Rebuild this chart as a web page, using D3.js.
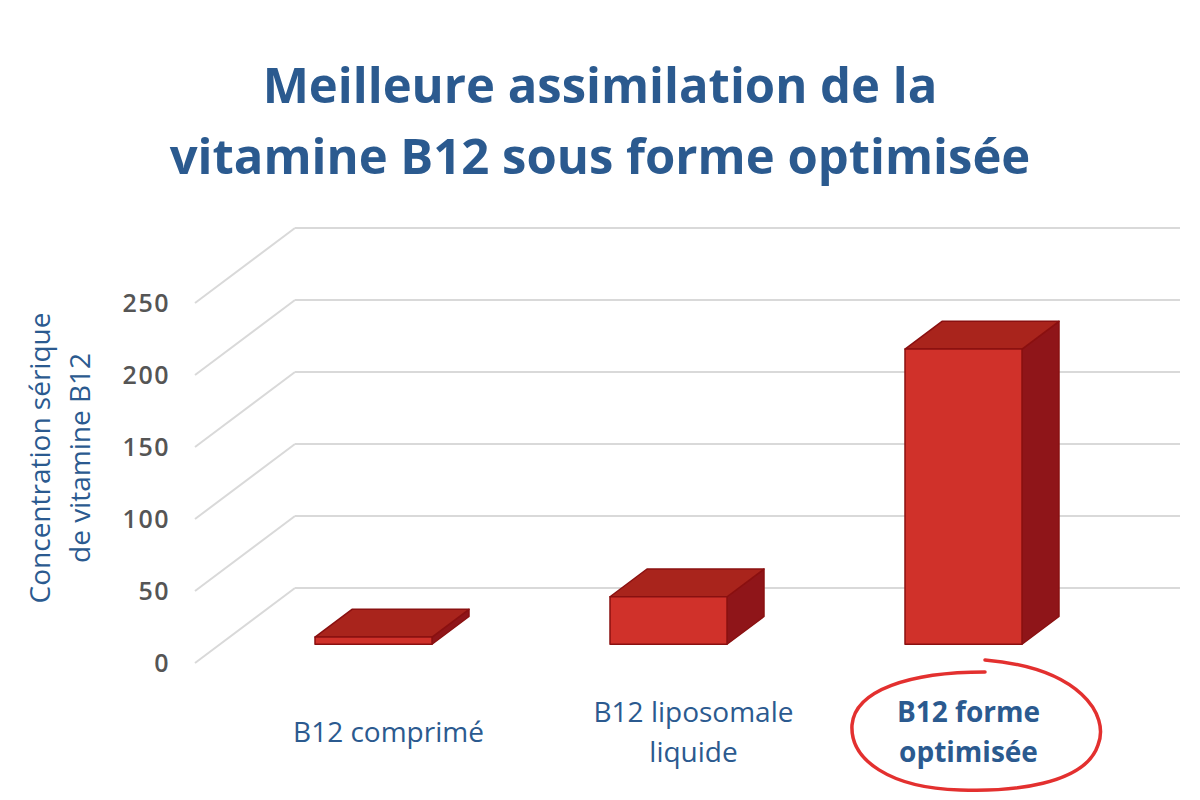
<!DOCTYPE html><html><head><meta charset="utf-8"><script src="https://cdn.jsdelivr.net/npm/d3@7"></script>
<style>body{margin:0;background:#fff}</style></head><body><svg id="c" width="1200" height="800"></svg>
<script>
const categories=["B12 comprimé","B12 liposomale liquide","B12 forme optimisée"];
const values=[5,33,205];
const ticks=[0,50,100,150,200,250];
const svg=d3.select("#c");
const blue="#2b5a8f";
const DX=100,DY=-75;
const y=d3.scaleLinear().domain([0,250]).range([663,303]);
const x=d3.scaleBand().domain(categories).range([201,1086]).paddingInner(0.6034).paddingOuter(0.3017);
const title=[["Meilleure assimilation de la",103],["vitamine B12 sous forme optimisée",174]];
title.forEach(([s,yy])=>svg.append("text").attr("x",600).attr("y",yy).attr("text-anchor","middle").attr("font-family","Open Sans").attr("font-weight",700).attr("font-size",49).attr("fill",blue).text(s));
const g=svg.append("g").attr("stroke","#d9d9d9").attr("stroke-width",2);
ticks.forEach(t=>{
  const yy=y(t);
  g.append("line").attr("x1",195).attr("y1",yy).attr("x2",195+DX).attr("y2",yy+DY);
  g.append("line").attr("x1",195+DX).attr("y1",yy+DY).attr("x2",1180).attr("y2",yy+DY);
});
svg.selectAll(".tk").data(ticks).enter().append("text").attr("x",170).attr("y",d=>y(d)+9).attr("text-anchor","end")
 .attr("font-family","Open Sans").attr("font-weight",600).attr("font-size",25).attr("letter-spacing",1.5).attr("fill","#555").text(d=>d);
const at=svg.append("text").attr("transform","translate(50,458) rotate(-90)").attr("text-anchor","middle").attr("font-family","Open Sans").attr("font-size",28).attr("fill",blue);
at.append("tspan").attr("x",0).attr("dy",0).text("Concentration sérique");
at.append("tspan").attr("x",0).attr("dy",40).text("de vitamine B12");
const t0=0.25, dep=0.37;
const ox=DX*t0, oy=DY*t0, bx=DX*dep, by=DY*dep;
const bw=x.bandwidth();
categories.forEach((c,i)=>{
  const x0=x(c)+ox, x1=x0+bw, yt=y(values[i])+oy, yb=y(0)+oy;
  const bg=svg.append("g").attr("stroke","#8a1010").attr("stroke-width",1.5).attr("stroke-linejoin","round");
  bg.append("path").attr("d",`M${x1},${yt}L${x1+bx},${yt+by}L${x1+bx},${yb+by}L${x1},${yb}Z`).attr("fill","#8f1519");
  bg.append("path").attr("d",`M${x0},${yt}L${x0+bx},${yt+by}L${x1+bx},${yt+by}L${x1},${yt}Z`).attr("fill","#a9241c");
  bg.append("rect").attr("x",x0).attr("y",yt).attr("width",bw).attr("height",yb-yt).attr("fill","#d0312a");
});
const lab=[["B12 comprimé"],["B12 liposomale","liquide"],["B12 forme","optimisée"]];
categories.forEach((c,i)=>{
  const cx=x(c)+ox+bw/2+[15,25,5][i];
  const t=svg.append("text").attr("text-anchor","middle").attr("font-family","Open Sans").attr("font-size",28)
   .attr("font-weight",i==2?700:400).attr("fill",blue);
  const l=lab[i];
  const y0=l.length==1?742:722;
  l.forEach((s,j)=>t.append("tspan").attr("x",cx).attr("y",y0+j*40).text(s));
});
svg.append("path").attr("d","M985,660 C1080,668 1110,715 1098,745 C1085,785 1010,792 960,790 C890,788 850,760 852,725 C855,690 910,672 985,672")
 .attr("fill","none").attr("stroke","#e3302f").attr("stroke-width",3.5).attr("stroke-linecap","round");
</script></body></html>
